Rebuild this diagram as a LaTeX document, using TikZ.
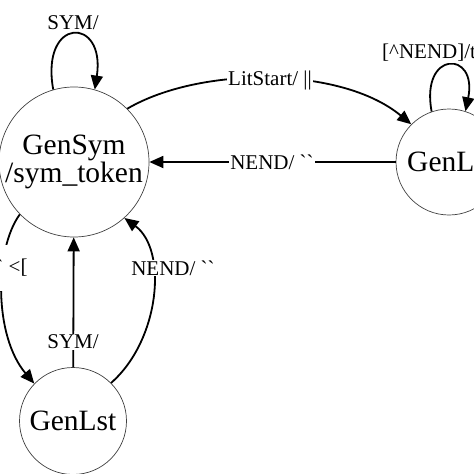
\documentclass[tikz,border=0pt]{standalone}
\usepackage{fontspec}
\setmainfont{Liberation Serif}
\usetikzlibrary{arrows.meta}
\begin{document}
\begin{tikzpicture}[x=1pt,y=-1pt,
  state/.style={circle,draw=black!75,line width=0.7pt,inner sep=0pt,align=center,
    font=\fontsize{29.5}{28}\selectfont},
  edge/.style={line width=1.8pt,-{Triangle[length=14pt,width=12pt]}},
  lbl/.style={fill=white,inner sep=1pt,font=\fontsize{21}{24}\selectfont}]
\useasboundingbox (0,0) rectangle (474,474);
\clip (0,0) rectangle (474,474);
% states
\node[state,minimum size=150pt] (sym) at (74,162) {GenSym\\/sym\_token};
\node[state,minimum size=107pt] (lst) at (73,421) {GenLst};
\node[state,minimum size=106pt] (lit) at (449,162) {GenLit};
% self loops
\draw[edge] (sym.106) .. controls (40,16) and (106,16) .. (sym.74);
\draw[edge] (lit.109) .. controls (420,50) and (478,50) .. (lit.72);
% transitions
\draw[edge] (sym.45) .. controls (200,66) and (341,66) .. (lit.135);
\draw[edge] (lit) -- (sym);
\draw[edge] (lst) -- (sym);
\draw[edge] (lst.45) .. controls (160,340) and (168,250) .. (sym.-48);
\draw[edge] (sym.224) .. controls (-6,250) and (-6,336) .. (lst.136);
% labels
\node[lbl] (l1) at (73,23) {SYM/};
\node[lbl,anchor=west] (l2) at (381,53) {[\textasciicircum NEND]/t};
\node[lbl] (l3) at (270,80) {LitStart/ ||};
\node[lbl] (l4) at (272,162) {NEND/ \textasciigrave\textasciigrave};
\node[lbl] (l5) at (73,342) {SYM/};
\node[lbl] (l6) at (173,268) {NEND/ \textasciigrave\textasciigrave};
\node[lbl,minimum height=46pt] (l7) at (12,268) {\textasciigrave\ <[};
\end{tikzpicture}
\end{document}
